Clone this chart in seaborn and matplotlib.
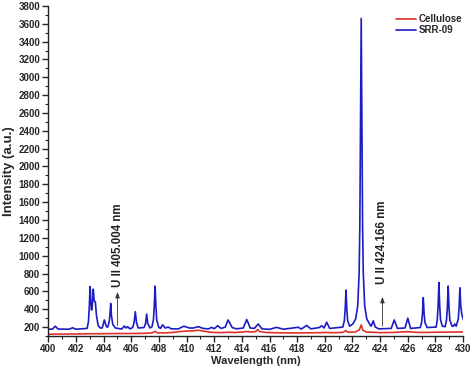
import numpy as np
import pandas as pd
import matplotlib
matplotlib.use("Agg")
import matplotlib.pyplot as plt
from matplotlib.ticker import MultipleLocator
import seaborn as sns

# ---- data ----
srr_wavelength = [
    400.0, 400.3, 400.5, 400.7, 401.5, 401.76, 402.0, 402.8, 402.9, 402.96,
    403.02, 403.08, 403.13, 403.19, 403.25, 403.31, 403.4, 403.48, 403.6, 403.75,
    403.9, 404.05, 404.2, 404.3, 404.4, 404.45, 404.51, 404.57, 404.66, 404.85,
    405.3, 405.5, 405.62, 405.74, 405.9, 406.1, 406.2, 406.29, 406.38, 406.5,
    406.92, 407.03, 407.11, 407.19, 407.35, 407.5, 407.6, 407.66, 407.72, 407.78,
    407.84, 407.98, 408.1, 408.27, 408.45, 408.68, 408.9, 409.4, 409.8, 410.2,
    410.5, 410.85, 411.2, 411.6, 411.8, 412.0, 412.25, 412.5, 412.8, 413.0,
    413.3, 413.6, 414.1, 414.35, 414.6, 414.9, 415.18, 415.45, 416.0, 416.5,
    417.0, 418.08, 418.3, 418.68, 419.0, 419.6, 419.77, 419.95, 420.13, 420.35,
    421.3, 421.41, 421.47, 421.53, 421.59, 421.65, 421.8, 422.03, 422.23, 422.38,
    422.48, 422.53, 422.58, 422.63, 422.68, 422.73, 422.78, 422.88, 423.03, 423.23,
    423.35, 423.5, 423.65, 423.9, 424.8, 425.02, 425.25, 425.8, 426.0, 426.2,
    426.9, 427.0, 427.06, 427.12, 427.18, 427.24, 427.4, 428.05, 428.13, 428.19,
    428.25, 428.31, 428.37, 428.5, 428.7, 428.8, 428.86, 428.92, 428.98, 429.04,
    429.2, 429.3, 429.4, 429.5, 429.65, 429.71, 429.77, 429.83, 429.9, 430.0,
]
srr_intensity = [
    175, 178, 210, 178, 176, 192, 176, 185, 260, 420,
    655, 470, 390, 460, 625, 500, 480, 330, 220, 190,
    190, 280, 205, 200, 260, 330, 465, 320, 230, 190,
    178, 212, 190, 205, 180, 195, 250, 372, 250, 190,
    195, 240, 346, 240, 190, 205, 280, 430, 660, 430,
    280, 200, 185, 225, 190, 200, 180, 180, 210, 190,
    190, 205, 185, 180, 197, 182, 215, 185, 200, 280,
    195, 180, 190, 285, 190, 185, 235, 180, 175, 197,
    176, 198, 178, 218, 180, 195, 215, 190, 255, 185,
    200, 270, 400, 615, 400, 270, 210, 236, 293, 440,
    810, 1330, 2480, 3660, 2480, 1330, 810, 440, 293, 236,
    210, 270, 200, 180, 185, 280, 185, 190, 300, 185,
    195, 250, 350, 530, 350, 250, 195, 200, 280, 430,
    700, 430, 280, 210, 205, 280, 420, 660, 420, 280,
    210, 210, 235, 210, 290, 420, 640, 440, 350, 290,
]

cell_wavelength = [
    400.0, 401.0, 402.0, 403.0, 404.0, 405.0, 406.0, 407.0, 407.5, 407.7,
    407.9, 408.5, 409.0, 409.5, 410.0, 410.5, 410.85, 411.2, 411.6, 412.0,
    412.5, 413.0, 413.5, 414.0, 414.35, 414.7, 415.0, 415.15, 415.3, 415.7,
    416.5, 417.5, 418.5, 419.5, 420.13, 420.5, 421.3, 421.5, 421.7, 422.2,
    422.5, 422.63, 422.75, 423.0, 423.5, 424.0, 425.0, 425.5, 426.0, 426.5,
    427.0, 428.0, 429.0, 430.0,
]
cell_intensity = [
    120, 122, 123, 125, 126, 128, 128, 130, 135, 152,
    135, 135, 140, 150, 155, 158, 165, 155, 145, 140,
    138, 142, 140, 145, 150, 145, 150, 172, 150, 140,
    136, 135, 135, 137, 140, 137, 140, 160, 142, 145,
    170, 225, 165, 145, 142, 138, 140, 145, 148, 142,
    140, 142, 144, 146,
]

series_names = ["Cellulose", "SRR-09"]
series_colors = ["#e0302a", "#1c1cc4"]

x_ticks = list(range(400, 431, 2))
y_ticks = list(range(200, 3801, 200))

annot_wavelengths = [405.004, 424.166]
annot_labels = ["U II 405.004 nm", "U II 424.166 nm"]
annot_base = [185, 180]
annot_tip = [625, 570]
annot_text_y = [650, 680]

# ---- build table ----
df = pd.concat([
    pd.DataFrame({"Wavelength": cell_wavelength, "Intensity": cell_intensity,
                  "Sample": series_names[0]}),
    pd.DataFrame({"Wavelength": srr_wavelength, "Intensity": srr_intensity,
                  "Sample": series_names[1]}),
], ignore_index=True)

# ---- style ----
sns.set_style("ticks")
plt.rcParams["font.family"] = ["Liberation Sans", "DejaVu Sans"]
plt.rcParams["font.weight"] = "bold"
plt.rcParams["axes.labelweight"] = "bold"

fig = plt.figure(figsize=(4.74, 3.69), dpi=100)
ax = fig.add_axes([0.102, 0.0894, 0.875, 0.8946])

sns.lineplot(data=df, x="Wavelength", y="Intensity", hue="Sample",
             hue_order=series_names, palette=series_colors, sort=False,
             estimator=None, linewidth=1.2, ax=ax)

ax.set_xlim(400, 430)
ax.set_ylim(100, 3800)
ax.set_xticks(x_ticks)
ax.set_yticks(y_ticks)
ax.xaxis.set_minor_locator(MultipleLocator(1))
ax.yaxis.set_minor_locator(MultipleLocator(100))
ax.tick_params(axis="both", which="major", direction="out", length=4,
               width=1.0, labelsize=7, pad=2)
ax.tick_params(axis="both", which="minor", direction="out", length=2, width=0.8)
for lab in ax.get_xticklabels() + ax.get_yticklabels():
    lab.set_fontweight("bold")
for s in ["left", "bottom"]:
    ax.spines[s].set_linewidth(1.0)
    ax.spines[s].set_color("#222222")
sns.despine(ax=ax, top=True, right=True)

ax.set_xlabel("Wavelength (nm)", fontsize=8, fontweight="bold", labelpad=1)
ax.set_ylabel("Intensity (a.u.)", fontsize=9.5, fontweight="bold", labelpad=2)

for xw, lbl, yb, yt, ytx in zip(annot_wavelengths, annot_labels,
                                annot_base, annot_tip, annot_text_y):
    ax.annotate("", xy=(xw, yt), xytext=(xw, yb),
                arrowprops=dict(arrowstyle="-|>,head_length=0.35,head_width=0.13",
                                color="#333333", lw=0.6))
    ax.text(xw, ytx, lbl, rotation=90, ha="center", va="bottom",
            fontsize=8.3, fontweight="bold", color="#222222")

leg = ax.legend(loc="upper right", bbox_to_anchor=(0.975, 0.962),
                bbox_transform=fig.transFigure, frameon=False, fontsize=7,
                handlelength=2.0, handletextpad=0.3, labelspacing=0.1,
                borderpad=0.0, borderaxespad=0.0)
for t in leg.get_texts():
    t.set_fontweight("bold")
for line in leg.get_lines():
    line.set_linewidth(1.2)

fig.savefig("out.png", dpi=100)
